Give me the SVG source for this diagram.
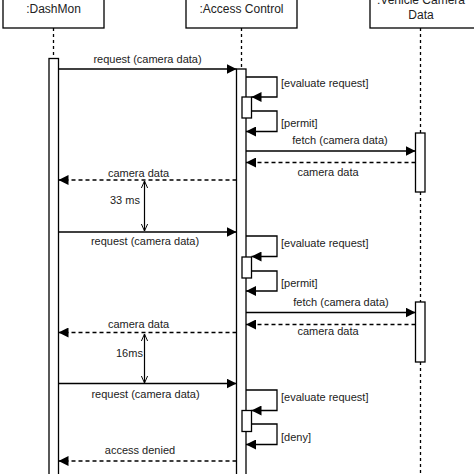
<svg xmlns="http://www.w3.org/2000/svg" width="474" height="474" viewBox="0 0 474 474">
<defs>
<marker id="fa" viewBox="0 0 10 10" refX="10" refY="5" markerWidth="10" markerHeight="10" markerUnits="userSpaceOnUse" orient="auto"><path d="M0,0 L10,5 L0,10 Z" fill="#000"/></marker>
<marker id="oa" viewBox="0 0 10 10" refX="9" refY="5" markerWidth="8" markerHeight="8" markerUnits="userSpaceOnUse" orient="auto-start-reverse"><path d="M0,1 L9,5 L0,9" fill="none" stroke="#000" stroke-width="1.2"/></marker>
</defs>
<style>
.box{fill:#fff;stroke:#000;stroke-width:1.3}
.life{stroke:#000;stroke-width:1.3;stroke-dasharray:3,3;fill:none}
.msg{stroke:#000;stroke-width:1.3;fill:none;marker-end:url(#fa)}
.ret{stroke:#000;stroke-width:1.3;fill:none;stroke-dasharray:4,3;marker-end:url(#fa)}
.tm{stroke:#000;stroke-width:1.2;fill:none;marker-start:url(#oa);marker-end:url(#oa)}
text{font-family:"Liberation Sans",Arial,sans-serif;font-size:11px;fill:#222}
.h{font-size:12px}
.m{text-anchor:middle}
</style>
<rect width="474" height="474" fill="#fff"/>
<g id="dashmon">
<rect class="box" x="3" y="-10" width="101" height="38"/>
<text class="h m" x="53.5" y="13">:DashMon</text>
<line class="life" x1="53.5" y1="28" x2="53.5" y2="58"/>
<rect class="box" x="49" y="58.5" width="9.5" height="420"/>
</g>
<g id="accesscontrol">
<rect class="box" x="186" y="-10" width="111" height="38"/>
<text class="h m" x="241.5" y="13">:Access Control</text>
<line class="life" x1="241.5" y1="28" x2="241.5" y2="69"/>
<rect class="box" x="236.5" y="69" width="9.5" height="410"/>
<rect class="box" x="242" y="97" width="9.5" height="21"/>
<rect class="box" x="242" y="257" width="9.5" height="21"/>
<rect class="box" x="242" y="410.5" width="9.5" height="21"/>
</g>
<g id="vehiclecamera">
<rect class="box" x="370" y="-10" width="110" height="38"/>
<text class="h m" x="421" y="4">:Vehicle Camera</text>
<text class="h m" x="421" y="19">Data</text>
<line class="life" x1="420.5" y1="28" x2="420.5" y2="133"/>
<rect class="box" x="415.5" y="133" width="9.5" height="59"/>
<line class="life" x1="420.5" y1="192" x2="420.5" y2="302"/>
<rect class="box" x="415.5" y="302" width="9.5" height="60"/>
<line class="life" x1="420.5" y1="362" x2="420.5" y2="474"/>
</g>
<g id="connectors">
<line class="msg" x1="58.5" y1="69" x2="236.5" y2="69"/>
<text class="m" x="147.5" y="63">request (camera data)</text>
<path class="msg" d="M246,77 H277 V97 H251.5"/>
<text x="281" y="87">[evaluate request]</text>
<path class="msg" d="M251.5,111 H277 V131.5 H246"/>
<text x="281" y="127">[permit]</text>
<line class="msg" x1="246" y1="151" x2="415.5" y2="151"/>
<text class="m" x="340" y="144">fetch (camera data)</text>
<line class="ret" x1="415.5" y1="162.5" x2="246" y2="162.5"/>
<text class="m" x="328" y="176">camera data</text>
<line class="ret" x1="236.5" y1="180" x2="58.5" y2="180"/>
<text class="m" x="138.5" y="177">camera data</text>
<line class="tm" x1="144.5" y1="181" x2="144.5" y2="231"/>
<text x="110" y="204">33 ms</text>
<line class="msg" x1="58.5" y1="232" x2="236.5" y2="232"/>
<text class="m" x="145" y="245">request (camera data)</text>
<path class="msg" d="M246,236 H277 V256.5 H251.5"/>
<text x="281" y="247">[evaluate request]</text>
<path class="msg" d="M251.5,271 H277 V291 H246"/>
<text x="281" y="287">[permit]</text>
<line class="msg" x1="246" y1="312.5" x2="415.5" y2="312.5"/>
<text class="m" x="341" y="306">fetch (camera data)</text>
<line class="ret" x1="415.5" y1="324.5" x2="246" y2="324.5"/>
<text class="m" x="328" y="335">camera data</text>
<line class="ret" x1="236.5" y1="332.5" x2="58.5" y2="332.5"/>
<text class="m" x="138.5" y="328">camera data</text>
<line class="tm" x1="144.5" y1="334" x2="144.5" y2="383"/>
<text x="116" y="357">16ms</text>
<line class="msg" x1="58.5" y1="383.5" x2="236.5" y2="383.5"/>
<text class="m" x="145.5" y="398">request (camera data)</text>
<path class="msg" d="M246,390 H277 V410.5 H251.5"/>
<text x="281" y="401">[evaluate request]</text>
<path class="msg" d="M251.5,424 H277 V444.5 H246"/>
<text x="281" y="441">[deny]</text>
<line class="ret" x1="236.5" y1="461" x2="58.5" y2="461"/>
<text class="m" x="140" y="454">access denied</text>
</g>
</svg>
